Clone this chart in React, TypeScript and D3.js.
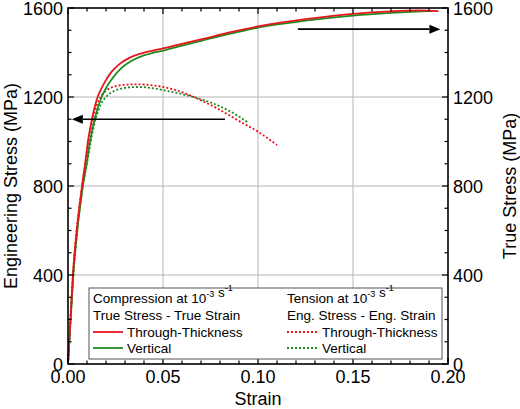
import * as d3 from 'd3';
import React from 'react';

// compression, true stress - true strain
const ttCompStrain = [0, 0.0026, 0.0074, 0.009, 0.0105, 0.0126, 0.0156, 0.0168, 0.0195, 0.023, 0.0274, 0.0326, 0.0388, 0.045, 0.05, 0.06, 0.07, 0.085, 0.1, 0.125, 0.15, 0.17, 0.185, 0.195];
const ttCompStress = [0, 400, 800, 900, 1000, 1100, 1200, 1224, 1269, 1314, 1350, 1377, 1396, 1409, 1418, 1439, 1459, 1490, 1517, 1550, 1574, 1585, 1589, 1586];
const vCompStrain = [0, 0.0028, 0.0078, 0.0098, 0.0116, 0.014, 0.0177, 0.0204, 0.0239, 0.0282, 0.0335, 0.0396, 0.045, 0.0507, 0.06, 0.07, 0.085, 0.1, 0.125, 0.15, 0.17, 0.183, 0.192];
const vCompStress = [0, 400, 800, 900, 1000, 1100, 1200, 1246, 1290, 1331, 1363, 1386, 1399, 1410, 1431, 1452, 1484, 1512, 1543, 1566, 1578, 1584, 1587];

// tension, eng. stress - eng. strain
const ttTensStrain = [0, 0.0026, 0.0074, 0.0092, 0.0108, 0.013, 0.0165, 0.02, 0.023, 0.027, 0.032, 0.036, 0.04, 0.045, 0.05, 0.06, 0.07, 0.08, 0.09, 0.1, 0.11];
const ttTensStress = [0, 400, 800, 900, 1000, 1100, 1190, 1228, 1243, 1252, 1256, 1257, 1256, 1252, 1245, 1222, 1185, 1142, 1092, 1044, 984];
const vTensStrain = [0, 0.0028, 0.0078, 0.01, 0.012, 0.0145, 0.0175, 0.02, 0.024, 0.028, 0.032, 0.036, 0.04, 0.045, 0.05, 0.06, 0.07, 0.08, 0.09, 0.095];
const vTensStress = [0, 400, 800, 900, 1000, 1100, 1170, 1200, 1226, 1238, 1243, 1245, 1244, 1239, 1231, 1213, 1190, 1158, 1112, 1083];

const xTicks = [0, 0.05, 0.1, 0.15, 0.2];
const yTicks = [0, 400, 800, 1200, 1600];

// arrows: [x1, x2, y]
const leftArrow = [0.0826, 0.002, 1100];
const rightArrow = [0.121, 0.196, 1505];

const RED = '#e8141c';
const GREEN = '#1e8c1e';
const FONT = '"Liberation Sans", Arial, sans-serif';

const margin = { left: 68, top: 8, right: 72, bottom: 45 };
const W = 520;
const H = 409;

function App() {
    const x = d3.scaleLinear().domain([0, 0.2]).range([margin.left, W - margin.right]);
    const y = d3.scaleLinear().domain([0, 1600]).range([H - margin.bottom, margin.top]);
    const x0 = x.range()[0], x1 = x.range()[1];
    const y0 = y.range()[0], y1 = y.range()[1];

    const line = (xs: number[], ys: number[]) =>
        d3.line<number>().x((d) => x(xs[d])).y((d) => y(ys[d])).curve(d3.curveMonotoneX)(xs.map((_, i) => i)) || '';

    const series = [
        { xs: vTensStrain, ys: vTensStress, color: GREEN, dash: '2,2' },
        { xs: ttTensStrain, ys: ttTensStress, color: RED, dash: '2,2' },
        { xs: vCompStrain, ys: vCompStress, color: GREEN, dash: '' },
        { xs: ttCompStrain, ys: ttCompStress, color: RED, dash: '' },
    ];

    const xMinor = d3.range(0, 0.2001, 0.01);
    const yMinor = d3.range(0, 1601, 100);

    const arrow = (a: number[], key: string) => {
        const xa = x(a[0]), xb = x(a[1]), ya = y(a[2]);
        const dir = xb > xa ? 1 : -1;
        const head = 11;
        return (
            <g key={key}>
                <line x1={xa} x2={xb - dir * head} y1={ya} y2={ya} stroke="#000" strokeWidth={1.6} />
                <polygon points={`${xb},${ya} ${xb - dir * head},${ya - 4.5} ${xb - dir * head},${ya + 4.5}`} fill="#000" />
            </g>
        );
    };

    const lx = 89, ly = 288, lw = 353, lh = 71;
    const sup = (s: string) => (
        <>
            <tspan dy={-6} fontSize={9}>{s}</tspan>
            <tspan dy={6}></tspan>
        </>
    );

    return (
        <svg width={W} height={H} style={{ position: 'absolute', left: 0, top: 0, background: '#fff' }} fontFamily={FONT}>
            {/* grid */}
            {xTicks.slice(1, -1).map((t) => (
                <line key={'gx' + t} x1={x(t)} x2={x(t)} y1={y0} y2={y1} stroke="#b4b4b4" strokeWidth={1} />
            ))}
            {yTicks.slice(1, -1).map((t) => (
                <line key={'gy' + t} x1={x0} x2={x1} y1={y(t)} y2={y(t)} stroke="#b4b4b4" strokeWidth={1} />
            ))}

            {/* curves */}
            {series.map((s, i) => (
                <path key={i} d={line(s.xs, s.ys)} fill="none" stroke={s.color} strokeWidth={1.8} strokeDasharray={s.dash || undefined} />
            ))}

            {arrow(leftArrow, 'la')}
            {arrow(rightArrow, 'ra')}

            {/* ticks */}
            {xMinor.map((t, i) => {
                const len = i % 5 === 0 ? 6 : 3.5;
                return (
                    <g key={'tx' + i}>
                        <line x1={x(t)} x2={x(t)} y1={y0} y2={y0 - len} stroke="#000" strokeWidth={1.2} />
                        <line x1={x(t)} x2={x(t)} y1={y1} y2={y1 + len} stroke="#000" strokeWidth={1.2} />
                    </g>
                );
            })}
            {yMinor.map((t, i) => {
                const len = i % 4 === 0 ? 6 : 3.5;
                return (
                    <g key={'ty' + i}>
                        <line x1={x0} x2={x0 + len} y1={y(t)} y2={y(t)} stroke="#000" strokeWidth={1.2} />
                        <line x1={x1} x2={x1 - len} y1={y(t)} y2={y(t)} stroke="#000" strokeWidth={1.2} />
                    </g>
                );
            })}
            <rect x={x0} y={y1} width={x1 - x0} height={y0 - y1} fill="none" stroke="#000" strokeWidth={1.6} />

            {/* legend */}
            <rect x={lx} y={ly} width={lw} height={lh} fill="#fff" stroke="#555" strokeWidth={1} />
            <g fontSize={13.5} fill="#000">
                <text x={93} y={303}>Compression at 10{sup('-3')} s{sup('-1')}</text>
                <text x={93} y={320}>True Stress - True Strain</text>
                <text x={127} y={337}>Through-Thickness</text>
                <text x={127} y={353}>Vertical</text>
                <text x={287} y={303}>Tension at 10{sup('-3')} s{sup('-1')}</text>
                <text x={287} y={320}>Eng. Stress - Eng. Strain</text>
                <text x={322} y={337}>Through-Thickness</text>
                <text x={322} y={353}>Vertical</text>
            </g>
            <line x1={93} x2={123} y1={332} y2={332} stroke={RED} strokeWidth={1.8} />
            <line x1={93} x2={123} y1={348} y2={348} stroke={GREEN} strokeWidth={1.8} />
            <line x1={287} x2={318} y1={332} y2={332} stroke={RED} strokeWidth={1.8} strokeDasharray="2,2" />
            <line x1={287} x2={318} y1={348} y2={348} stroke={GREEN} strokeWidth={1.8} strokeDasharray="2,2" />

            {/* tick labels */}
            <g fontSize={18} fill="#000">
                {xTicks.map((t) => (
                    <text key={'lx' + t} x={x(t)} y={383} textAnchor="middle">{t.toFixed(2)}</text>
                ))}
                {yTicks.map((t) => (
                    <text key={'ly' + t} x={63} y={y(t) + 0.5} textAnchor="end" dominantBaseline="central">{t}</text>
                ))}
                {yTicks.map((t) => (
                    <text key={'ry' + t} x={453} y={y(t) + 0.5} dominantBaseline="central">{t}</text>
                ))}
                <text x={(x0 + x1) / 2} y={405} textAnchor="middle">Strain</text>
                <text transform={`translate(17,${(y0 + y1) / 2}) rotate(-90)`} textAnchor="middle">Engineering Stress (MPa)</text>
                <text transform={`translate(516,${(y0 + y1) / 2}) rotate(-90)`} textAnchor="middle">True Stress (MPa)</text>
            </g>
        </svg>
    );
}

export default App;
